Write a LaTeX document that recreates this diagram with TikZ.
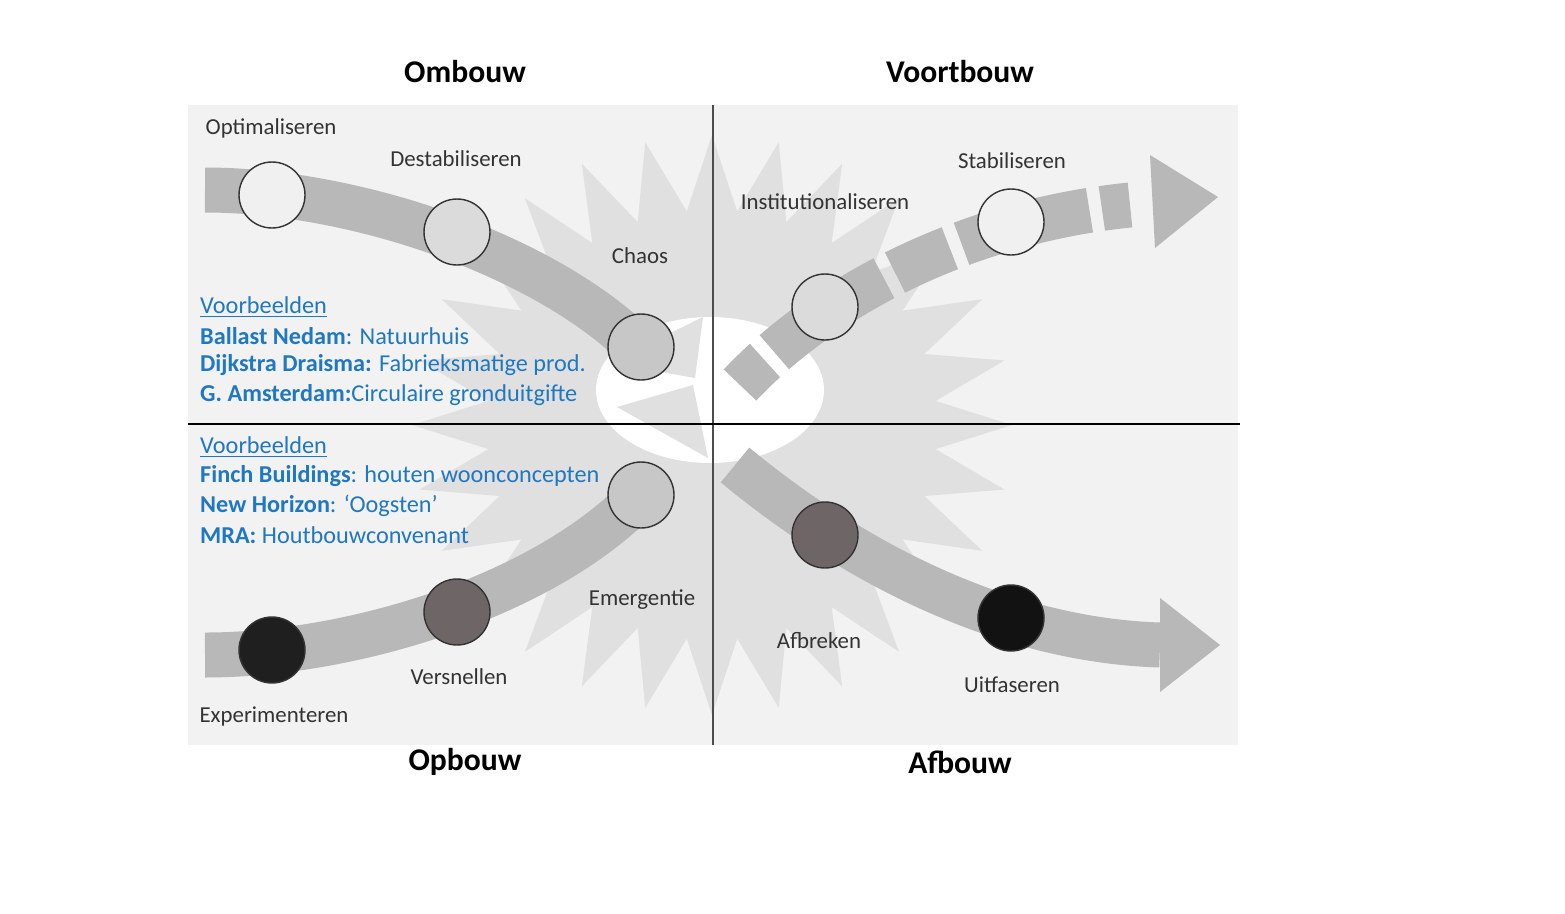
\documentclass[tikz,border=0pt]{standalone}
\usepackage{fontspec}
\setmainfont{Carlito}
\usetikzlibrary{shapes.geometric}
\definecolor{star}{HTML}{E0E0E0}
\definecolor{band}{HTML}{B8B8B8}
\definecolor{blu}{HTML}{1F78C1}
\begin{document}
\begin{tikzpicture}[x=0.02cm,y=-0.02cm,
 title/.style={font=\fontsize{18}{20}\selectfont\bfseries},
 lab/.style={font=\fontsize{13}{15}\selectfont, text=black!80},
 ex/.style={font=\fontsize{13.8}{16}\selectfont, text=blu, anchor=west},
 dot/.style={circle, draw=black!80, line width=0.8pt, minimum size=1.32cm, inner sep=0pt},
 bnd/.style={draw=band, line width=0.9cm}]
\useasboundingbox (0,0) rectangle (1565,913);
\fill[black!5] (188,105) rectangle (1238,745);
% starburst
\fill[star] \foreach \i in {0,...,27}{
  \ifnum\i=0 ({712+300*cos(\i*360/28)},{425+290*sin(\i*360/28)}) \else -- ({712+300*cos(\i*360/28)},{425+290*sin(\i*360/28)}) \fi
  -- ({712+225*cos((\i+0.5)*360/28)},{425+215*sin((\i+0.5)*360/28)}) } -- cycle;
\fill[white] (710,390) ellipse [x radius=114, y radius=73];
% inner arrowheads
\fill[star] (610,363) -- (703,317) -- (695,378) -- cycle;
\fill[star] (617,407) -- (693,385) -- (708,458) -- cycle;
% bands
\draw[bnd] (205,190) .. controls (360,190) and (560,260) .. (650,360);
\draw[bnd] (205,655) .. controls (360,655) and (560,590) .. (650,485);
\draw[bnd, dash pattern=on 0.7cm off 0.25cm on 1.2cm off 0.25cm on 1.2cm off 0.25cm on 1.2cm off 0.25cm on 1.2cm off 0.25cm on 1.2cm off 0.25cm on 1.2cm off 0.25cm on 1.2cm off 0.25cm] (740,385) .. controls (820,300) and (960,222) .. (1130,205);
\fill[band] (1150,155) -- (1218,197) -- (1155,248) -- cycle;
\draw[bnd] (735,465) .. controls (850,560) and (1000,640) .. (1160,645);
\fill[band] (1160,598) -- (1220,645) -- (1160,692) -- cycle;
% lines
\draw[black!70, line width=0.6pt] (713,105) -- (713,745);
\draw[black, line width=0.6pt] (188,424) -- (1240,424);
% dots
\node[dot, fill=black!6] (d1) at (272,195) {};
\node[dot, fill=black!14] (d2) at (457,232) {};
\node[dot, fill=black!22] (d3) at (641,347) {};
\node[dot, fill=black!14] (d4) at (825,307) {};
\node[dot, fill=black!6] (d5) at (1011,222) {};
\node[dot, fill=black!22] (d6) at (641,495) {};
\node[dot, fill=black!50!red!10!black!60] (d7) at (457,612) {};
\node[dot, fill=black!88] (d8) at (272,650) {};
\node[dot, fill=black!50!red!10!black!60] (d9) at (825,535) {};
\node[dot, fill=black!93] (d10) at (1011,618) {};
% titles
\node[title] (t1) at (465,72) {Ombouw};
\node[title] (t2) at (960,72) {Voortbouw};
\node[title] (t3) at (465,762) {Opbouw};
\node[title] (t4) at (960,762) {Afbouw};
% labels
\node[lab] (l1) at (271,128) {Optimaliseren};
\node[lab] (l2) at (456,159) {Destabiliseren};
\node[lab] (l3) at (640,256) {Chaos};
\node[lab] (l4) at (825,202) {Institutionaliseren};
\node[lab] (l5) at (1012,161) {Stabiliseren};
\node[lab] (l6) at (642,600) {Emergentie};
\node[lab] (l7) at (459,677) {Versnellen};
\node[lab] (l8) at (274,716) {Experimenteren};
\node[lab] (l9) at (819,641) {Afbreken};
\node[lab] (l10) at (1012,685) {Uitfaseren};
% examples
\node[ex] (e1) at (194,307) {\underline{Voorbeelden}};
\node[ex] (e2) at (194,336) {\textbf{Ballast Nedam}: Natuurhuis};
\node[ex] (e3) at (194,365) {\textbf{Dijkstra Draisma:} Fabrieksmatige prod.};
\node[ex] (e4) at (194,395) {\textbf{G. Amsterdam:}Circulaire gronduitgifte};
\node[ex] (e5) at (194,447) {\underline{Voorbeelden}};
\node[ex] (e6) at (194,476) {\textbf{Finch Buildings}: houten woonconcepten};
\node[ex] (e7) at (194,506) {\textbf{New Horizon}: ‘Oogsten’};
\node[ex] (e8) at (194,535) {\textbf{MRA:} Houtbouwconvenant};
\end{tikzpicture}
\end{document}
